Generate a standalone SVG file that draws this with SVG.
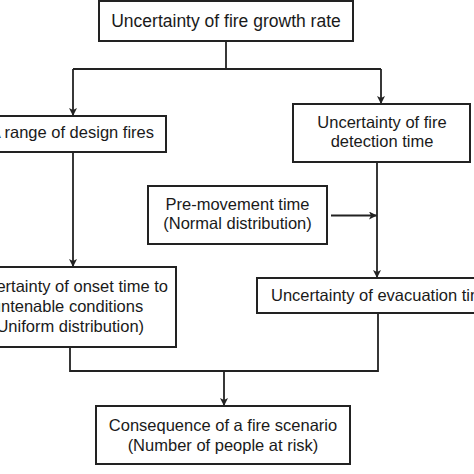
<svg xmlns="http://www.w3.org/2000/svg" width="474" height="474" viewBox="0 0 474 474">
<style>
.box{fill:#fff;stroke:#222;stroke-width:2}
.ln{fill:none;stroke:#222;stroke-width:1.8}
text{font-family:"Liberation Sans",Arial,sans-serif;font-size:16.5px;fill:#1a1a1a}
.c{text-anchor:middle}
</style>
<defs>
<marker id="ah" viewBox="0 0 10 10" refX="10" refY="5" markerWidth="8" markerHeight="8" markerUnits="userSpaceOnUse" orient="auto">
<path d="M0,0 L10,5 L0,10 L2.5,5 Z" fill="#222"/>
</marker>
</defs>
<rect width="474" height="474" fill="#fff"/>
<g id="connectors">
<path class="ln" d="M226,41 V69"/>
<path class="ln" d="M73,69 H381"/>
<path class="ln" d="M73,69 V116" marker-end="url(#ah)"/>
<path class="ln" d="M381,69 V104" marker-end="url(#ah)"/>
<path class="ln" d="M73,152 V267" marker-end="url(#ah)"/>
<path class="ln" d="M377,162 V278" marker-end="url(#ah)"/>
<path class="ln" d="M331,215.5 H377" marker-end="url(#ah)"/>
<path class="ln" d="M70,347 V371 H378 V313"/>
<path class="ln" d="M224,371 V406" marker-end="url(#ah)"/>
</g>
<g id="n-growth">
<rect class="box" x="99" y="1" width="254" height="40"/>
<text class="c" x="226" y="27" style="font-size:17.5px">Uncertainty of fire growth rate</text>
</g>
<g id="n-design">
<rect class="box" x="-30" y="116" width="196" height="36"/>
<text x="154" y="138" text-anchor="end">A range of design fires</text>
</g>
<g id="n-detection">
<rect class="box" x="293" y="104" width="177" height="58"/>
<text class="c" x="382" y="128">Uncertainty of fire</text>
<text class="c" x="382" y="147">detection time</text>
</g>
<g id="n-premovement">
<rect class="box" x="148" y="186" width="179" height="58"/>
<text class="c" x="237.5" y="210">Pre-movement time</text>
<text class="c" x="237.5" y="229">(Normal distribution)</text>
</g>
<g id="n-onset">
<rect class="box" x="-41" y="267" width="217" height="80"/>
<text class="c" x="67.5" y="292">Uncertainty of onset time to</text>
<text class="c" x="67.5" y="312">untenable conditions</text>
<text class="c" x="67.5" y="332">(Uniform distribution)</text>
</g>
<g id="n-evacuation">
<rect class="box" x="257" y="278" width="240" height="35"/>
<text x="271" y="301">Uncertainty of evacuation time</text>
</g>
<g id="n-consequence">
<rect class="box" x="96" y="406" width="254" height="58"/>
<text class="c" x="223" y="431">Consequence of a fire scenario</text>
<text class="c" x="223" y="451">(Number of people at risk)</text>
</g>
</svg>
